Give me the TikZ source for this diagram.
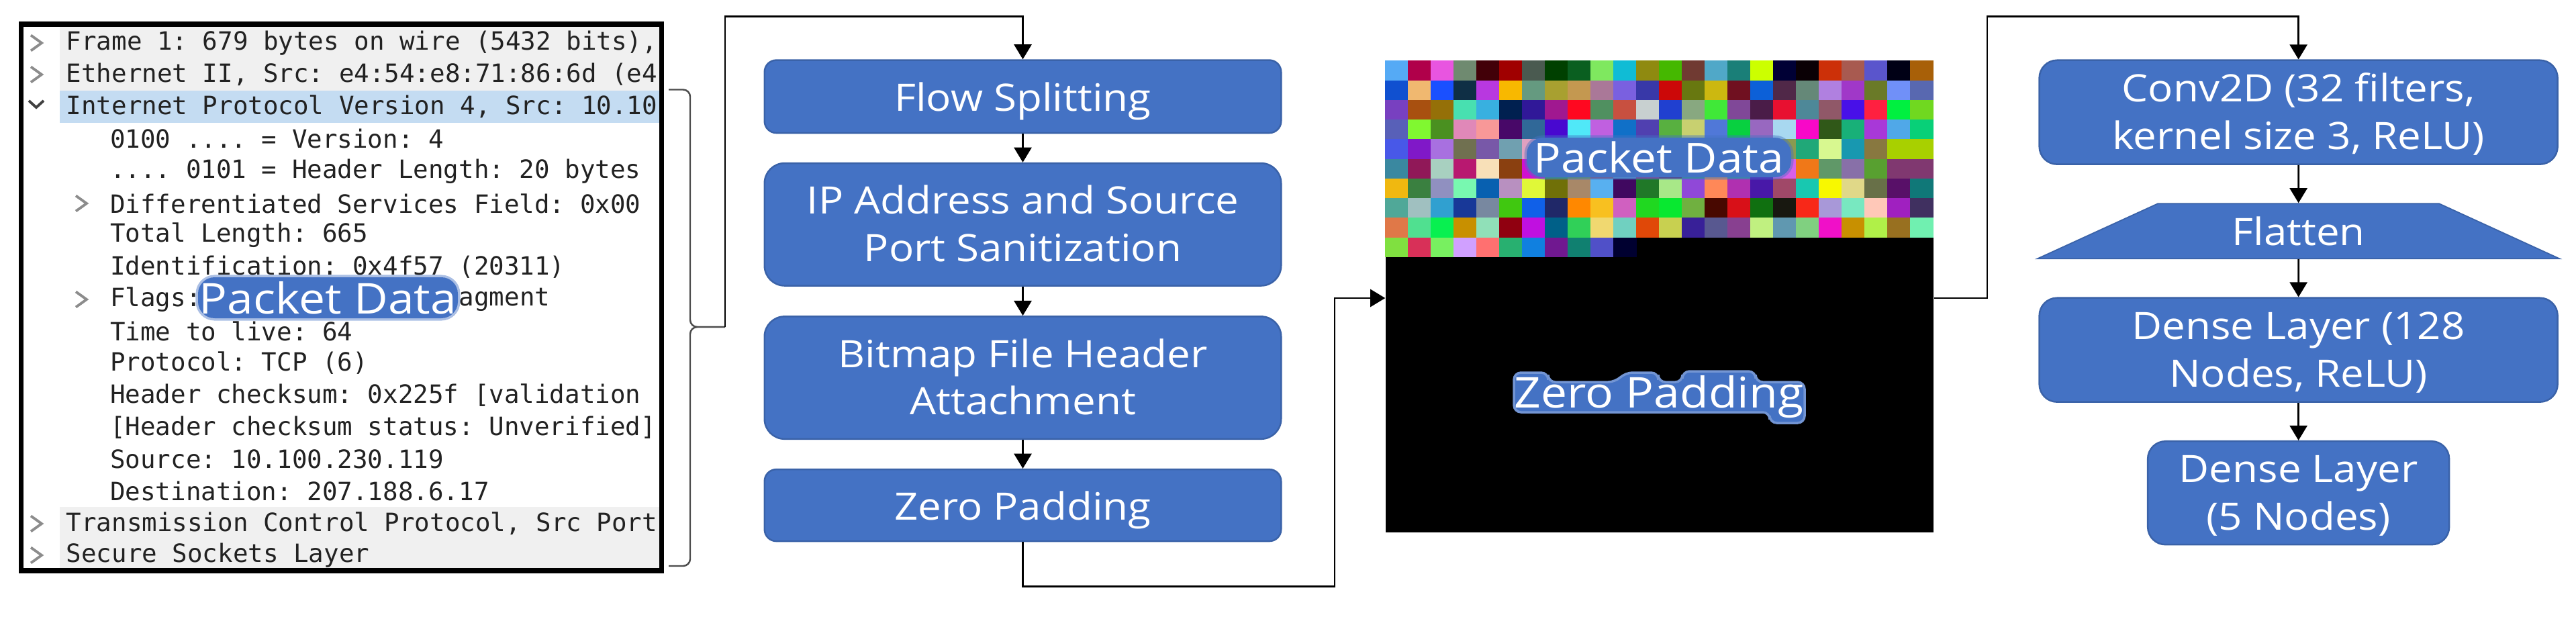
\documentclass[tikz,border=0pt]{standalone}
\usepackage{fontspec}
\setmainfont[FakeStretch=1.1]{Open Sans}
\setmonofont{DejaVu Sans Mono}
\usetikzlibrary{shapes.geometric, arrows.meta}
\definecolor{boxblue}{HTML}{4472C4}
\definecolor{boxedge}{HTML}{3A62A8}
\definecolor{rowgrey}{HTML}{F0F0F0}
\definecolor{rowblue}{HTML}{C4DCF2}
\definecolor{wiretext}{HTML}{222222}
\tikzstyle{process} = [rectangle, rounded corners=#1, fill=boxblue, draw=boxedge, line width=0.7pt,
    text=white, align=center, inner sep=0pt, text depth=3.8pt, font=\fontsize{16}{20}\selectfont]
\tikzstyle{oneline} = [text height=16pt]
\tikzstyle{twoline} = [text height=35pt]
\tikzstyle{arrow} = [line width=0.8pt,-{Triangle[length=6.3pt,width=7.4pt]}]
\tikzstyle{brace} = [line width=0.7pt, draw=black!70]
\tikzstyle{wire} = [anchor=west, inner sep=0pt, text=wiretext, font=\ttfamily\fontsize{10.67}{12}\selectfont]
\tikzstyle{chev} = [line width=1.1pt, draw=black!45]
\tikzstyle{glow} = [rounded corners=7pt, fill=boxblue, draw=boxblue, draw opacity=0.45, line width=2pt,
    text=white, inner sep=0pt]

\begin{document}
\begin{tikzpicture}
        \useasboundingbox (0,0) rectangle (38.37,-9.18);

        % capture window
        \fill [rowgrey] (0.89,-0.36) rectangle (9.86,-1.35);
        \fill [rowblue] (0.89,-1.35) rectangle (9.86,-1.83);
        \fill [rowgrey] (0.89,-7.55) rectangle (9.86,-8.50);
        \begin{scope}
            \clip (0.32,-0.36) rectangle (9.86,-8.50);
            \node (r1) [wire] at (0.98,-0.64) {Frame 1: 679 bytes on wire (5432 bits),};
            \node (r2) [wire] at (0.98,-1.11) {Ethernet II, Src: e4:54:e8:71:86:6d (e4};
            \node (r3) [wire] at (0.98,-1.59) {Internet Protocol Version 4, Src: 10.10};
            \node (r4) [wire] at (1.635,-2.07) {0100 .... = Version: 4};
            \node (r5) [wire] at (1.635,-2.55) {.... 0101 = Header Length: 20 bytes};
            \node (r6) [wire] at (1.635,-3.03) {Differentiated Services Field: 0x00};
            \node (r7) [wire] at (1.635,-3.50) {Total Length: 665};
            \node (r8) [wire] at (1.635,-3.98) {Identification: 0x4f57 (20311)};
            \node (r9) [wire] at (1.635,-4.46) {Flags:};
            \node (r9b) [wire] at (6.83,-4.46) {agment};
            \node (r10) [wire] at (1.635,-4.93) {Time to live: 64};
            \node (r11) [wire] at (1.635,-5.41) {Protocol: TCP (6)};
            \node (r12) [wire] at (1.635,-5.89) {Header checksum: 0x225f [validation};
            \node (r13) [wire] at (1.635,-6.37) {[Header checksum status: Unverified]};
            \node (r14) [wire] at (1.635,-6.84) {Source: 10.100.230.119};
            \node (r15) [wire] at (1.635,-7.32) {Destination: 207.188.6.17};
            \node (r16) [wire] at (0.98,-7.80) {Transmission Control Protocol, Src Port};
            \node (r17) [wire] at (0.98,-8.27) {Secure Sockets Layer};
        \end{scope}
        \foreach \x/\y in {0.46/-0.64, 0.46/-1.11, 1.13/-3.03, 1.13/-4.46, 0.46/-7.80, 0.46/-8.27}
            \draw [chev] (\x,\y+0.115) -- ++(0.16,-0.115) -- ++(-0.16,-0.115);
        \draw [chev, draw=black!75] (0.43,-1.50) -- ++(0.11,-0.10) -- ++(0.11,0.10);
        \node (frame) [rectangle, draw=black, line width=2.2pt, minimum width=9.54cm, minimum height=8.145cm]
            at (5.085,-4.43) {};
        \node (pkt1) [glow, minimum width=3.87cm, minimum height=0.61cm, font=\fontsize{18}{20}\selectfont]
            at (4.885,-4.435) {Packet Data};

        % bracket
        \coordinate (brtop) at (9.96,-1.335);
        \coordinate (brbot) at (9.96,-8.43);
        \coordinate (brtip) at (10.80,-4.87);
        \draw [brace, rounded corners=3pt] (brtop) -- (10.28,-1.335) -- (10.28,-4.87) -- (brtip);
        \draw [brace, rounded corners=3pt] (brbot) -- (10.28,-8.43) -- (10.28,-4.87) -- (brtip);

        % preprocessing
        \node (flow) [process=5pt, oneline, minimum width=7.695cm, minimum height=1.085cm] at (15.235,-1.438) {Flow Splitting};
        \node (ip) [process=8.5pt, twoline, minimum width=7.695cm, minimum height=1.825cm, below of=flow, yshift=-0.905cm]
            {IP Address and Source\\Port Sanitization};
        \node (bmp) [process=8.5pt, twoline, minimum width=7.695cm, minimum height=1.825cm, below of=ip, yshift=-1.283cm]
            {Bitmap File Header\\Attachment};
        \node (zero) [process=5pt, oneline, minimum width=7.695cm, minimum height=1.07cm, below of=bmp, yshift=-0.90cm]
            {Zero Padding};

        % bitmap image
        \node (img) [rectangle, fill=black, minimum width=8.16cm, minimum height=7.02cm, inner sep=0pt] at (24.72,-4.42) {};
        \begin{scope}[shift={(img.north west)}]
            \foreach \cells [count=\j from 0] in {
                {55AAF5,B0004A,E855E0,6F8A70,420008,A00000,4A5A50,004000,0A5F20,7FE85F,10BCD5,8F8A10,45B800,703A32,50A8C8,1A7F78,CCFF00,000035,0A0005,CC3008,A85A50,5A55CC,000015,A86008},
                {1050D0,F0B870,1A50FF,0F2F45,B838E0,F8B800,659A80,A8A030,C49850,AA7898,7A60E0,3838A8,CC0808,687810,CCB810,701020,0C60D8,502848,658878,B080E0,A038C8,6A7A28,7090F8,5868B0},
                {7840C0,A85010,957008,48E0B0,38B0E0,002050,301898,A01890,FF0820,509060,C85040,C8D0D0,2040D0,88A880,40E838,804898,4A1C48,E81030,4E8898,905868,4810E8,FF2040,00F040,70D820},
                {5860B8,80F830,4A9020,E088B8,F89898,480868,306898,4808D0,50E8F8,C060E0,1070C8,5040B0,58B040,C8D070,5078D8,08D040,9868C0,A8D8F0,F808C8,305818,18B078,A838D8,50A8E8,08D078},
                {4858E8,8018C8,A870E0,707050,7858A8,70A0B0,E0A0C0,7A5020,B0B018,C8D060,408040,A04020,306070,2F6F9F,A01838,50A060,E87060,8A9A50,20A878,D8F890,1898B0,887840,A8D000,A8D000},
                {3A88A0,901858,A8D0C0,B81870,F8E0B8,8A4010,D010D0,30A060,70A040,905070,58A0D0,A03080,5A2060,30A080,E09050,30A090,5010B8,D860E8,F07818,609868,8870A8,58A030,803870,803870},
                {F0B810,3A8040,9090C0,78F8B0,0860B0,B890C0,E0F838,707008,A88868,58B0F0,400860,207828,A8E888,9048D8,FF8858,B030B0,4818A8,A04868,18C8B0,F8F800,E0D888,687048,581068,107878},
                {50A898,A0C0C0,30A0D0,183898,7888A0,40C810,1060E8,202868,FF8800,F8C020,D060C0,20D820,08E830,70B040,480800,D81018,107010,181810,F82818,A898D8,78E8C0,FFC8B8,A020C0,403060},
                {E07848,50E090,08F050,C89000,90E0B8,900010,C010E0,006088,30D058,F0D870,70D0C0,E04808,C8D050,382098,585890,884090,C0F080,6098B0,80D080,F010C8,C89000,B0F048,987020,70F0B0},
                {80E040,D83058,78F060,D0A0FF,FF7070,28B070,1080E0,701890,108070,5050C8,000030}}
                \foreach \c [count=\i from 0] in \cells {
                    \definecolor{cell}{HTML}{\c}
                    \fill [cell] (\i*0.34,-\j*0.2925) rectangle ++(0.342,-0.2945);
                }
        \end{scope}
        \node (pkt2) [glow, minimum width=3.94cm, minimum height=0.59cm, font=\fontsize{17.5}{20}\selectfont]
            at (24.71,-2.345) {Packet Data};
        % halo follows the tall letters
        \draw [fill=boxblue, draw=boxblue!75!white, line width=1pt, rounded corners=3pt]
            (22.55,-5.55) -- (23.06,-5.55) -- (23.06,-5.69) -- (24.06,-5.69) -- (24.21,-5.55)
            -- (24.70,-5.55) -- (24.70,-5.69) -- (25.06,-5.69) -- (25.06,-5.53) -- (26.15,-5.53)
            -- (26.15,-5.69) -- (26.88,-5.69) -- (26.88,-6.30) -- (26.36,-6.30) -- (26.36,-6.14)
            -- (22.55,-6.14) -- cycle;
        \node (pad) [text=white, inner sep=0pt, font=\fontsize{18}{20}\selectfont] at (24.71,-5.91) {Zero Padding};

        % classifier
        \node (conv) [process=7.5pt, twoline, minimum width=7.72cm, minimum height=1.55cm] at (34.236,-1.672)
            {Conv2D (32 filters,\\kernel size 3, ReLU)};
        \node (flat) [trapezium, trapezium stretches=true, trapezium left angle=27, trapezium right angle=27,
            fill=boxblue, draw=boxedge, line width=0.5pt, text=white, inner sep=0pt, minimum width=7.78cm, minimum height=0.82cm,
            font=\fontsize{16}{20}\selectfont, below of=conv, yshift=-0.77cm] {Flatten};
        \node (dense1) [process=7.5pt, twoline, minimum width=7.72cm, minimum height=1.55cm, below of=flat, yshift=-0.77cm]
            {Dense Layer (128\\Nodes, ReLU)};
        \node (dense2) [process=7.5pt, twoline, minimum width=4.49cm, minimum height=1.54cm, below of=dense1, yshift=-1.13cm]
            {Dense Layer\\(5 Nodes)};

        % connectors
        \coordinate (top1) at (15.235,-0.246);
        \coordinate (low1) at (19.88,-8.735);
        \coordinate (top2) at (29.60,-0.246);
        \draw [arrow] (brtip) |- (top1) -- (flow);
        \draw [arrow] (flow) -- (ip);
        \draw [arrow] (ip) -- (bmp);
        \draw [arrow] (bmp) -- (zero);
        \draw [arrow] (zero) |- (low1) |- ([yshift=-0.02cm]img.west);
        \draw [arrow] ([yshift=-0.02cm]img.east) -| (top2) -| (conv);
        \draw [arrow] (conv) -- (flat);
        \draw [arrow] (flat) -- (dense1);
        \draw [arrow] (dense1) -- (dense2);
    \end{tikzpicture}
\end{document}
